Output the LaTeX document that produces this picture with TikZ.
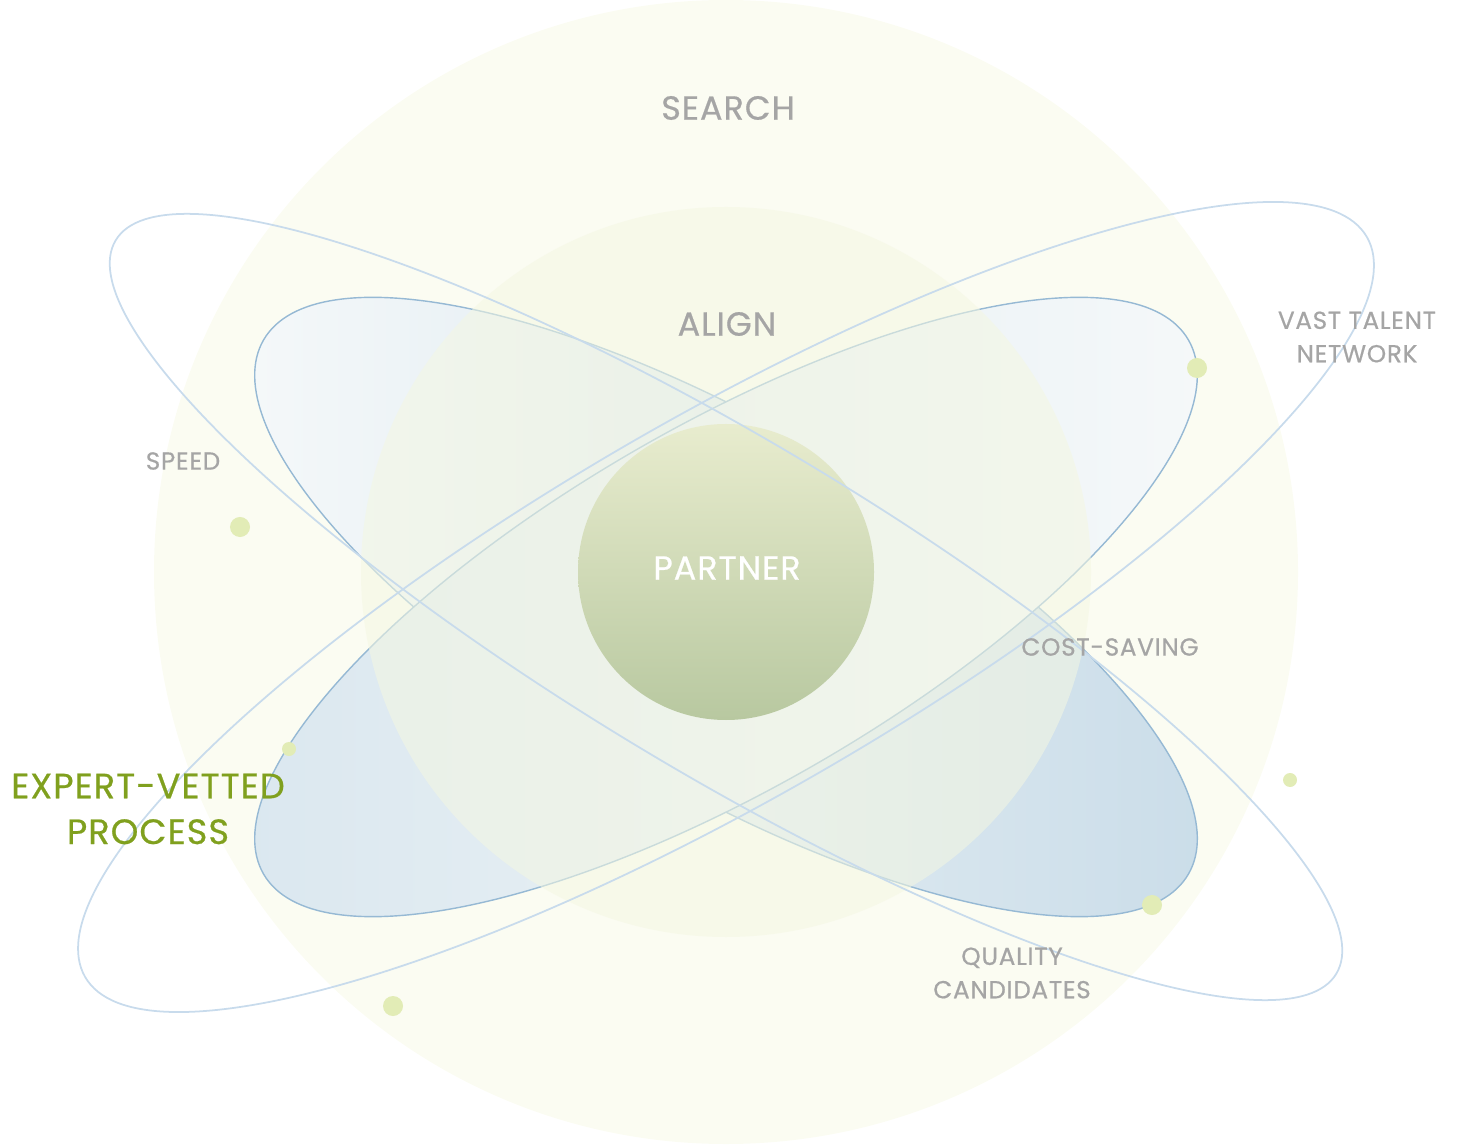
\documentclass[tikz,border=0pt]{standalone}
\usepackage{fontspec}
\setmainfont{Poppins}[LetterSpace=3, FakeBold=0.6]
\definecolor{Search}{RGB}{251, 252, 242}
\definecolor{Align}{RGB}{244, 247, 226}
\definecolor{PartnerTop}{RGB}{232, 236, 206}
\definecolor{PartnerBot}{RGB}{184, 200, 160}
\definecolor{Lens}{RGB}{190, 213, 228}
\definecolor{LensLight}{RGB}{246, 249, 250}
\definecolor{LensLine}{RGB}{150, 185, 212}
\definecolor{Orbit}{RGB}{200, 219, 236}
\definecolor{Dot}{RGB}{226, 236, 182}
\definecolor{Label}{RGB}{165, 165, 165}
\definecolor{Expert}{RGB}{128, 160, 30}
\tikzset{
    pianeta/.style={circle, inner sep=0pt, minimum size=0.2cm, fill=Dot},
    satellite/.style={circle, inner sep=0pt, minimum size=0.14cm, fill=Dot},
    orbita/.style={draw=Orbit, line width=0.5pt},
    lente/.style={draw=LensLine, line width=0.4pt},
    etichetta/.style={text=Label, font=\fontsize{7}{9.5}\selectfont, align=center},
    titolo/.style={text=Label, font=\fontsize{9.5}{11}\selectfont}
}
\begin{document}
\begin{tikzpicture}[x=0.01cm, y=0.01cm]
    \useasboundingbox (0,0) rectangle (1458,1145);

    %%% circles
    \fill[Search] (726,573) circle (572);

    % lenses
    \begin{scope}[shift={(726,538)}, rotate=-30]
        \shade[lente, left color=LensLight, middle color=Lens, right color=Lens!80!LensLight] (0,0) ellipse (534 and 181);
    \end{scope}
    \begin{scope}[shift={(726,538)}, rotate=30]
        \shade[lente, left color=LensLight!50!Lens, middle color=Lens, right color=LensLight] (0,0) ellipse (534 and 181);
    \end{scope}

    \fill[Align, fill opacity=0.55] (726,573) circle (365);
    \shade[top color=PartnerTop, bottom color=PartnerBot] (726,573) circle (148);

    % orbits
    \begin{scope}[shift={(726,538)}, rotate=-31]
        \draw[orbita] (0,0) ellipse (712 and 165);
    \end{scope}
    \begin{scope}[shift={(726,538)}, rotate=30]
        \draw[orbita] (0,0) ellipse (740 and 190);
    \end{scope}

    %%% dots
    \node[pianeta]   (vast)    at (1197,777) {};
    \node[pianeta]   (speed)   at (240,618)  {};
    \node[pianeta]   (quality) at (1152,240) {};
    \node[pianeta]   (expert)  at (393,139)  {};
    \node[satellite] (small1)  at (289,396)  {};
    \node[satellite] (small2)  at (1290,365) {};

    %%% labels
    \node[titolo] (search)  at (728,1037) {SEARCH};
    \node[titolo] (align)   at (727,821)  {ALIGN};
    \node[titolo, text=white] (partner) at (727,577) {PARTNER};
    \node[etichetta] (vastl)  at (1357,808) {VAST TALENT\\NETWORK};
    \node[etichetta] (speedl) at (183,684)  {SPEED};
    \node[etichetta] (costl)  at (1110,498) {COST-SAVING};
    \node[etichetta] (qualityl) at (1012,172) {QUALITY\\CANDIDATES};
    \node[etichetta, text=Expert, font=\fontsize{10}{13}\selectfont] (expertl) at (148,336) {EXPERT-VETTED\\PROCESS};
\end{tikzpicture}
\end{document}
